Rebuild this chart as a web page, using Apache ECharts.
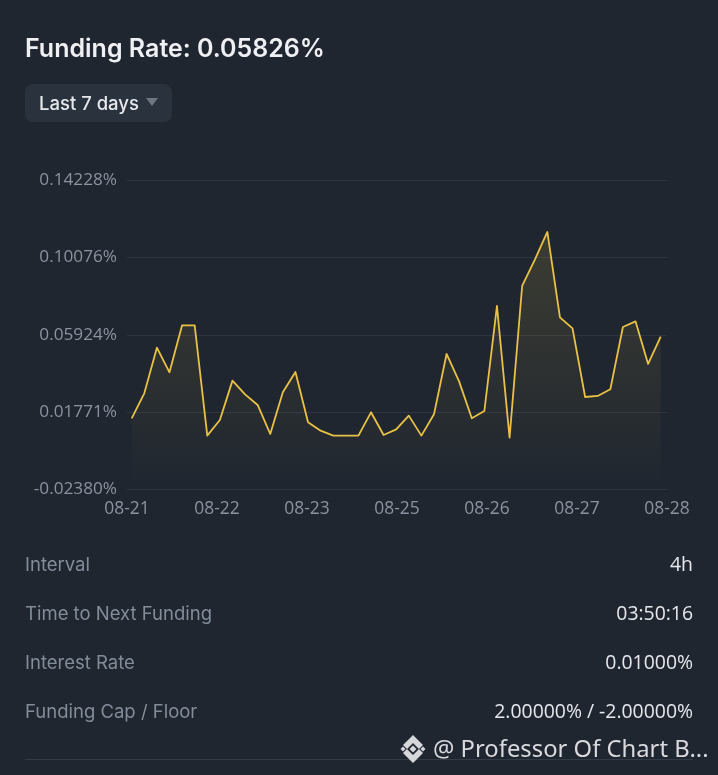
<!DOCTYPE html>
<html>
<head>
<meta charset="utf-8">
<style>html,body{margin:0;padding:0;background:#1f2630}#c{width:718px;height:775px}</style>
<script src="https://cdn.jsdelivr.net/npm/echarts@6/dist/echarts.min.js"></script>
</head>
<body>
<div id="c"></div>
<script>
const FONT = 'Inter, "Noto Sans", sans-serif';
const NUMFONT = '"Open Sans", "Noto Sans", sans-serif';
const dateLabels = ['08-21','08-22','08-23','08-25','08-26','08-27','08-28'];
const yTickLabels = ['-0.02380%','0.01771%','0.05924%','0.10076%','0.14228%'];
const fundingRates = [
  0.01435,0.02779,0.05234,0.03908,0.06434,0.06434,0.00504,0.01346,0.03460,0.02725,
  0.02152,0.00593,0.02833,0.03926,0.01220,0.00772,0.00504,0.00504,0.00504,0.01758,
  0.00539,0.00844,0.01579,0.00504,0.01650,0.04893,0.03406,0.01435,0.01829,0.07473,
  0.00396,0.08548,0.09946,0.11451,0.06864,0.06273,0.02582,0.02636,0.02994,0.06344,
  0.06649,0.04356,0.05826
];
const periods = fundingRates.map((_, i) => String(i));
const statLabels = ['Interval','Time to Next Funding','Interest Rate','Funding Cap / Floor'];
const statValues = ['4h','03:50:16','0.01000%','2.00000% / -2.00000%'];
const statY = [565.5,614,663,712];

const chart = echarts.init(document.getElementById('c'), null, {renderer:'canvas'});

const texts = [];
statLabels.forEach((t,i)=>texts.push({type:'text',style:{x:25,y:statY[i],text:t,fill:'#838c99',font:'400 18.5px '+FONT,textVerticalAlign:'middle'}}));
statValues.forEach((t,i)=>texts.push({type:'text',style:{x:693,y:statY[i],text:t,fill:'#e6e8ec',font:'400 19.4px '+NUMFONT,textAlign:'right',textVerticalAlign:'middle'}}));

chart.setOption({
  backgroundColor:'#1f2630',
  animation:false,
  grid:[
    {left:127,width:540,top:180.3,height:309},
    {left:131.7,width:529,top:180.3,height:309}
  ],
  xAxis:[
    {type:'category',gridIndex:0,data:dateLabels,boundaryGap:false,
     axisLine:{show:false},axisTick:{show:false},splitLine:{show:false},
     axisLabel:{color:'#8b93a0',fontSize:17.4,fontFamily:NUMFONT,margin:11,interval:0,hideOverlap:false,alignMinLabel:'center',alignMaxLabel:'center'}},
    {type:'category',gridIndex:1,data:periods,boundaryGap:false,show:false}
  ],
  yAxis:[
    {type:'value',gridIndex:0,min:-0.0238,max:0.14228,interval:0.04152,
     axisLine:{show:false},axisTick:{show:false},
     splitLine:{show:true,lineStyle:{color:'#2c3541',width:1}},
     axisLabel:{color:'#8b93a0',fontSize:17.2,fontFamily:NUMFONT,margin:10,
       formatter:(v,i)=>yTickLabels[i]}},
    {type:'value',gridIndex:1,min:-0.0238,max:0.14228,show:false,splitLine:{show:false}}
  ],
  series:[{
    type:'line',xAxisIndex:1,yAxisIndex:1,data:fundingRates,
    showSymbol:false,smooth:false,
    lineStyle:{color:'#e9c145',width:1.8,join:'round'},
    areaStyle:{origin:'start',color:{type:'linear',x:0,y:0,x2:0,y2:1,colorStops:[
      {offset:0,color:'rgba(240,196,60,0.2)'},
      {offset:0.94,color:'rgba(240,196,60,0.01)'},
      {offset:1,color:'rgba(240,196,60,0)'}]}}
  }],
  graphic:{elements:[
    {type:'text',style:{x:25,y:49,text:'Funding Rate: 0.05826%',fill:'#eef0f3',font:'600 25px '+FONT,textVerticalAlign:'middle'}},
    {type:'rect',shape:{x:25,y:84,width:147,height:38,r:8},style:{fill:'#2a323e'}},
    {type:'text',style:{x:39,y:104,text:'Last 7 days',fill:'#e6e8ec',font:'500 18.5px '+FONT,textVerticalAlign:'middle'}},
    {type:'polygon',shape:{points:[[146,98],[158,98],[152,106]]},style:{fill:'#6f7785'}},
    ...texts,
    {type:'rect',shape:{x:25,y:759,width:668,height:1},style:{fill:'#333b47'}},
    {type:'polygon',shape:{points:[[413,735],[423,745],[419,749],[413,743],[407,749],[403,745]]},style:{fill:'#d5d7da'}},
    {type:'polygon',shape:{points:[[413,763],[423,753],[419,749],[413,755],[407,749],[403,753]]},style:{fill:'#d5d7da'}},
    {type:'polygon',shape:{points:[[413,745.5],[416.5,749],[413,752.5],[409.5,749]]},style:{fill:'#d5d7da'}},
    {type:'polygon',shape:{points:[[403,746.5],[405.5,749],[403,751.5],[400.5,749]]},style:{fill:'#d5d7da'}},
    {type:'polygon',shape:{points:[[423,746.5],[425.5,749],[423,751.5],[420.5,749]]},style:{fill:'#d5d7da'}},
    {type:'text',style:{x:433,y:750,text:'@ Professor Of Chart B...',fill:'#d8dadd',font:'400 23.8px "Noto Sans", sans-serif',textVerticalAlign:'middle'}}
  ]}
});
</script>
</body>
</html>
